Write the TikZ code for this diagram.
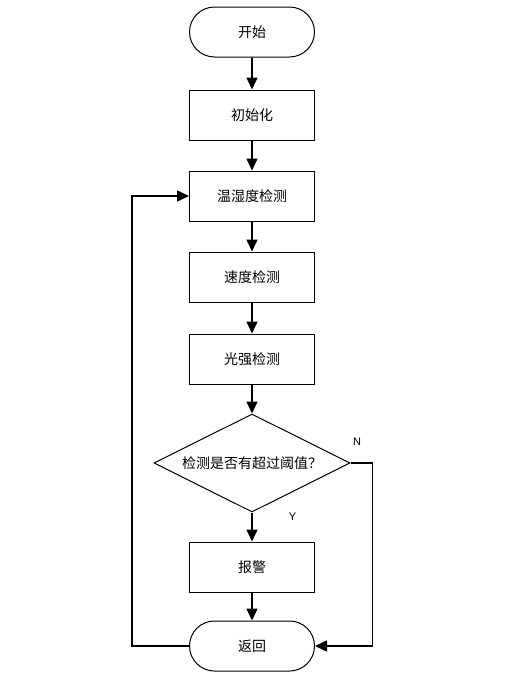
\documentclass[tikz,border=0pt]{standalone}
\usepackage{fontspec}
\setmainfont{Liberation Sans}
\newfontfamily\cjk{Noto Sans CJK SC}
\usetikzlibrary{arrows.meta,shapes.geometric,shapes.misc,positioning}

\tikzset{
    box/.style={draw, line width=1pt, fill=white, minimum width=125pt, minimum height=50pt,
        inner sep=0pt, font=\cjk\fontsize{14}{16}\selectfont},
    term/.style={box, rounded rectangle},
    judge/.style={box, diamond, shape aspect=2, minimum width=196pt, minimum height=98pt},
    flow/.style={line width=1.6pt, -{Triangle[length=12pt,width=11pt]}},
    yn/.style={font=\fontsize{11}{13}\selectfont, inner sep=0pt}
}

\begin{document}
\begin{tikzpicture}[x=1pt, y=-1pt]
        \useasboundingbox (0,0) rectangle (513,691);

        \node[term] (start) at (252,32) {开始};
        \node[box] (init) at (252,115) {初始化};
        \node[box] (temp) at (252,196) {温湿度检测};
        \node[box] (speed) at (252,277) {速度检测};
        \node[box] (light) at (252,359) {光强检测};
        \node[judge] (check) at (252,463) {检测是否有超过阈值？};
        \node[box] (alarm) at (252,567) {报警};
        \node[term] (back) at (252,646) {返回};

        \draw[flow] (start) -- (init);
        \draw[flow] (init) -- (temp);
        \draw[flow] (temp) -- (speed);
        \draw[flow] (speed) -- (light);
        \draw[flow] (light) -- (check);
        \draw[flow] (check) -- node[yn, pos=0.15, right=36pt] {Y} (alarm);
        \draw[flow] (alarm) -- (back);

        \draw[flow] (check.east) -- node[yn, pos=0.3, above=17pt] {N} ++(22,0) |- (back.east);
        \draw[flow] (back.west) -- ++(-57,0) |- (temp.west);
    \end{tikzpicture}
\end{document}
